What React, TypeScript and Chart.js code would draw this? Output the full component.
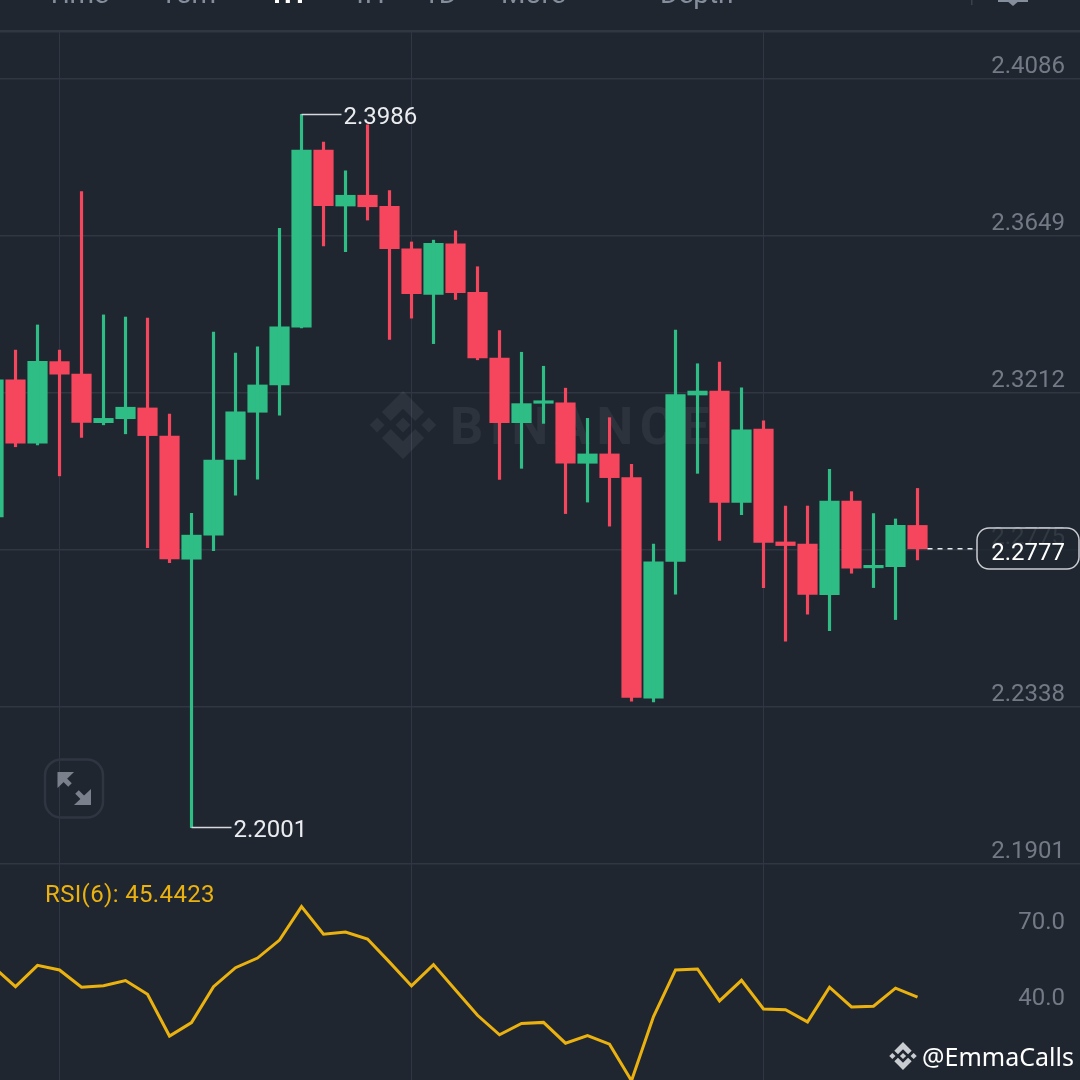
import React, { useEffect, useRef } from 'react';
import { Chart, registerables } from 'chart.js';

Chart.register(...registerables);

const opens = [2.2866, 2.3247, 2.3071, 2.3298, 2.3263, 2.3128, 2.3139, 2.3169, 2.3091, 2.2748, 2.2815, 2.3026, 2.3157, 2.3233, 2.3394, 2.3887, 2.3731, 2.3761, 2.3730, 2.3612, 2.3485, 2.3626, 2.3491, 2.3308, 2.3128, 2.3182, 2.3183, 2.3015, 2.3041, 2.2975, 2.2361, 2.2742, 2.3205, 2.3216, 2.2906, 2.3110, 2.2796, 2.2790, 2.2649, 2.2910, 2.2724, 2.2727, 2.2842];
const highs = [2.3247, 2.3330, 2.3400, 2.3330, 2.3771, 2.3428, 2.3422, 2.3419, 2.3152, 2.2876, 2.3380, 2.3322, 2.3339, 2.3669, 2.3986, 2.3909, 2.3829, 2.3957, 2.3774, 2.3631, 2.3636, 2.3662, 2.3562, 2.3384, 2.3324, 2.3285, 2.3224, 2.3140, 2.3142, 2.3012, 2.2790, 2.3386, 2.3292, 2.3297, 2.3225, 2.3133, 2.2896, 2.2896, 2.2998, 2.2936, 2.2875, 2.2860, 2.2945];
const lows = [2.2866, 2.3061, 2.3066, 2.2980, 2.3087, 2.3122, 2.3097, 2.2780, 2.2738, 2.2001, 2.2772, 2.2926, 2.2971, 2.3149, 2.3392, 2.3620, 2.3604, 2.3692, 2.3360, 2.3419, 2.3348, 2.3471, 2.3303, 2.2970, 2.3001, 2.3126, 2.2875, 2.2907, 2.2840, 2.2353, 2.2351, 2.2651, 2.2987, 2.2800, 2.2872, 2.2669, 2.2520, 2.2595, 2.2549, 2.2709, 2.2669, 2.2580, 2.2746];
const closes = [2.3247, 2.3071, 2.3299, 2.3263, 2.3129, 2.3140, 2.3171, 2.3092, 2.2749, 2.2815, 2.3024, 2.3158, 2.3233, 2.3395, 2.3887, 2.3732, 2.3761, 2.3729, 2.3612, 2.3487, 2.3627, 2.3490, 2.3308, 2.3128, 2.3181, 2.3189, 2.3015, 2.3041, 2.2975, 2.2363, 2.2741, 2.3206, 2.3216, 2.2906, 2.3108, 2.2795, 2.2786, 2.2650, 2.2910, 2.2723, 2.2731, 2.2842, 2.2777];
const rsiValues = [57.4, 49.6, 58.0, 56.2, 49.4, 50.0, 52.0, 46.6, 30.1, 35.4, 49.6, 57.1, 60.9, 68.0, 81.2, 70.3, 71.2, 68.4, 59.3, 49.9, 58.3, 48.3, 38.3, 30.6, 35.1, 35.5, 27.3, 30.3, 26.9, 12.5, 37.8, 56.2, 56.6, 44.0, 52.1, 40.8, 40.5, 35.7, 49.4, 41.6, 41.9, 49.0, 45.4423];

const priceTicks = [2.4086, 2.3649, 2.3212, 2.2775, 2.2338, 2.1901];
const rsiTicks = [70, 40];
const gridCandles = [3, 19, 35];
const tabs = ['Time', '15m', '1H', '4H', '1D', 'More', 'Depth'];
const lastPrice = 2.2777;
const rsiLabel = 'RSI(6): 45.4423';

const BG = '#1f2630';
const GRID = '#303743';
const GREEN = '#2ebd85';
const RED = '#f6465d';
const GOLD = '#ebb20f';
const FONT = 'Roboto';

const candleColor = (i: number) => (closes[i] >= opens[i] ? GREEN : RED);

// axes sit on top of the plot, so they must not eat any of its room
const noRoom = (scale: any) => {
    if (scale.isHorizontal()) scale.height = 0;
    else scale.width = 0;
    scale.paddingTop = 0;
    scale.paddingBottom = 0;
    scale.paddingLeft = 0;
    scale.paddingRight = 0;
};

// binance diamond logo, used by watermark and the bottom right tag
const drawLogo = (ctx: CanvasRenderingContext2D, cx: number, cy: number, r: number, color: string) => {
    const poly = (pts: number[][]) => {
        ctx.beginPath();
        pts.forEach((p, i) => {
            if (i === 0) ctx.moveTo(cx + p[0] * r, cy + p[1] * r);
            else ctx.lineTo(cx + p[0] * r, cy + p[1] * r);
        });
        ctx.closePath();
        ctx.fill();
    };
    const diamond = (x: number, s: number) => poly([[x, -s], [x + s, 0], [x, s], [x - s, 0]]);
    ctx.fillStyle = color;
    diamond(0, 0.22);
    diamond(-0.76, 0.22);
    diamond(0.76, 0.22);
    poly([[0, -1], [0.62, -0.38], [0.36, -0.12], [0, -0.48], [-0.36, -0.12], [-0.62, -0.38]]);
    poly([[0, 1], [0.62, 0.38], [0.36, 0.12], [0, 0.48], [-0.36, 0.12], [-0.62, 0.38]]);
};

const backdropPlugin = {
    id: 'backdrop',
    beforeDatasetsDraw(chart: any) {
        const ctx = chart.ctx;
        ctx.save();
        drawLogo(ctx, 403, 425, 34, 'rgba(255,255,255,0.06)');
        ctx.fillStyle = 'rgba(255,255,255,0.06)';
        ctx.font = `700 52px ${FONT}`;
        ctx.letterSpacing = '6.5px';
        ctx.textAlign = 'left';
        ctx.textBaseline = 'alphabetic';
        ctx.fillText('BINANCE', 450, 444);
        ctx.letterSpacing = '0px';
        ctx.restore();
    },
};

const overlayPlugin = {
    id: 'overlay',
    afterDatasetsDraw(chart: any) {
        const ctx = chart.ctx;
        const x = chart.scales.x;
        const price = chart.scales.price;
        ctx.save();

        // cut off tab row at the top
        const tabX = [46, 160, 268, 349, 423, 501, 660];
        ctx.textAlign = 'left';
        ctx.textBaseline = 'alphabetic';
        tabs.forEach((t, i) => {
            ctx.font = `${t === '1H' ? 700 : 400} 28px ${FONT}`;
            ctx.fillStyle = t === '1H' ? '#ffffff' : '#848e9c';
            ctx.fillText(t, tabX[i], 3);
        });
        ctx.fillStyle = '#3a414d';
        ctx.fillRect(971, 0, 1.5, 5);
        ctx.fillStyle = '#848e9c';
        ctx.fillRect(998, 0, 30, 2);
        ctx.beginPath();
        ctx.moveTo(1006, 0);
        ctx.lineTo(1020, 0);
        ctx.lineTo(1013, 6);
        ctx.closePath();
        ctx.fill();

        ctx.fillStyle = GRID;
        ctx.fillRect(0, 30, 1080, 2.5);

        // high and low callouts
        const hi = highs.indexOf(Math.max(...highs));
        const lo = lows.indexOf(Math.min(...lows));
        ctx.font = `400 24px ${FONT}`;
        ctx.textBaseline = 'middle';
        const callout = (i: number, val: number, len: number) => {
            const px = x.getPixelForValue(i);
            const py = price.getPixelForValue(val);
            ctx.strokeStyle = '#d5d8dc';
            ctx.lineWidth = 1.5;
            ctx.beginPath();
            ctx.moveTo(px, py);
            ctx.lineTo(px + len, py);
            ctx.stroke();
            ctx.fillStyle = '#eaecef';
            ctx.fillText(val.toFixed(4), px + len + 2, py + 3.5);
        };
        callout(hi, highs[hi], 40);
        callout(lo, lows[lo], 40);

        // last price tag
        const lastY = price.getPixelForValue(lastPrice);
        ctx.strokeStyle = '#e6e8ea';
        ctx.lineWidth = 1.5;
        ctx.setLineDash([5, 5]);
        ctx.beginPath();
        ctx.moveTo(x.getPixelForValue(closes.length - 1) + 10, lastY);
        ctx.lineTo(977, lastY);
        ctx.stroke();
        ctx.setLineDash([]);
        ctx.beginPath();
        ctx.roundRect(977, 528, 102, 41, 12);
        ctx.fillStyle = 'rgba(31,38,48,0.78)';
        ctx.fill();
        ctx.strokeStyle = '#c9ccd0';
        ctx.stroke();
        ctx.fillStyle = '#ffffff';
        ctx.textAlign = 'right';
        ctx.fillText(lastPrice.toFixed(4), 1065, 554);

        // rsi legend
        ctx.textAlign = 'left';
        ctx.fillStyle = GOLD;
        ctx.letterSpacing = '0.35px';
        ctx.fillText(rsiLabel, 45, 896);
        ctx.letterSpacing = '0px';

        // expand button
        ctx.strokeStyle = '#2f3641';
        ctx.lineWidth = 2.5;
        ctx.beginPath();
        ctx.roundRect(45, 759.5, 58, 58, 16);
        ctx.stroke();
        ctx.fillStyle = '#7b818c';
        ctx.strokeStyle = '#7b818c';
        ctx.lineWidth = 5;
        ctx.beginPath();
        ctx.moveTo(57.5, 772);
        ctx.lineTo(74, 772);
        ctx.lineTo(57.5, 788);
        ctx.closePath();
        ctx.fill();
        ctx.beginPath();
        ctx.moveTo(91, 805);
        ctx.lineTo(74, 805);
        ctx.lineTo(91, 789);
        ctx.closePath();
        ctx.fill();
        ctx.beginPath();
        ctx.moveTo(62, 777);
        ctx.lineTo(70, 785);
        ctx.moveTo(77, 792);
        ctx.lineTo(85, 800);
        ctx.stroke();

        // author tag
        drawLogo(ctx, 903, 1056, 14, '#c9ccd0');
        ctx.fillStyle = '#ffffff';
        ctx.font = '400 25px "Noto Sans"';
        ctx.textBaseline = 'alphabetic';
        ctx.fillText('@EmmaCalls', 922, 1066);

        ctx.restore();
    },
};

const App = () => {
    const chartRef = useRef<HTMLCanvasElement | null>(null);

    useEffect(() => {
        if (!chartRef.current) return;
        document.body.style.margin = '0';
        document.body.style.background = BG;

        const ctx = chartRef.current.getContext('2d');
        if (!ctx) return;

        const idx = opens.map((_, i) => i);

        const myChart = new Chart(ctx, {
            type: 'bar',
            data: {
                datasets: [
                    {
                        type: 'bar',
                        data: idx.map((i) => ({ x: i, y: [lows[i], highs[i]] })),
                        backgroundColor: idx.map(candleColor),
                        barThickness: 2.5,
                        grouped: false,
                        borderWidth: 0,
                        yAxisID: 'price',
                    },
                    {
                        type: 'bar',
                        data: idx.map((i) => ({ x: i, y: [opens[i], closes[i]] })),
                        backgroundColor: idx.map(candleColor),
                        barThickness: 19.5,
                        grouped: false,
                        borderWidth: 0,
                        yAxisID: 'price',
                    },
                    {
                        type: 'line',
                        data: idx.map((i) => ({ x: i, y: rsiValues[i] })),
                        borderColor: GOLD,
                        borderWidth: 3,
                        pointRadius: 0,
                        tension: 0,
                        yAxisID: 'rsi',
                    },
                ],
            } as any,
            plugins: [backdropPlugin, overlayPlugin],
            options: {
                responsive: false,
                animation: false,
                layout: { padding: { top: 32, left: 0, right: 0, bottom: 0 } },
                plugins: { legend: { display: false }, tooltip: { enabled: false } },
                scales: {
                    x: {
                        type: 'linear',
                        offset: false,
                        min: 0.295,
                        max: 49.386,
                        grid: { color: GRID, lineWidth: 1, offset: false, drawTicks: false },
                        border: { display: false },
                        ticks: { display: false },
                        afterBuildTicks: (scale: any) => {
                            scale.ticks = gridCandles.map((value) => ({ value }));
                        },
                        afterFit: noRoom,
                    },
                    price: {
                        type: 'linear',
                        position: 'right',
                        min: 2.12984,
                        max: 2.42154,
                        grid: { color: GRID, lineWidth: 1.5, drawTicks: false },
                        border: { display: false },
                        ticks: {
                            mirror: true,
                            padding: -15,
                            labelOffset: -11.5,
                            color: '#737a86',
                            font: { family: FONT, size: 24 },
                            callback: (v: any) => Number(v).toFixed(4),
                        },
                        afterBuildTicks: (scale: any) => {
                            scale.ticks = priceTicks.map((value) => ({ value }));
                        },
                        afterFit: noRoom,
                    },
                    rsi: {
                        type: 'linear',
                        position: 'right',
                        min: 12.76,
                        max: 426.45,
                        grid: { display: false, drawTicks: false },
                        border: { display: false },
                        ticks: {
                            mirror: true,
                            padding: -15,
                            labelOffset: -11.5,
                            color: '#737a86',
                            font: { family: FONT, size: 24 },
                            callback: (v: any) => Number(v).toFixed(1),
                        },
                        afterBuildTicks: (scale: any) => {
                            scale.ticks = rsiTicks.map((value) => ({ value }));
                        },
                        afterFit: noRoom,
                    },
                },
            } as any,
        });

        return () => {
            myChart.destroy();
        };
    }, []);

    return <canvas ref={chartRef} width={1080} height={1080} style={{ display: 'block', background: BG }}></canvas>;
};

export default App;
